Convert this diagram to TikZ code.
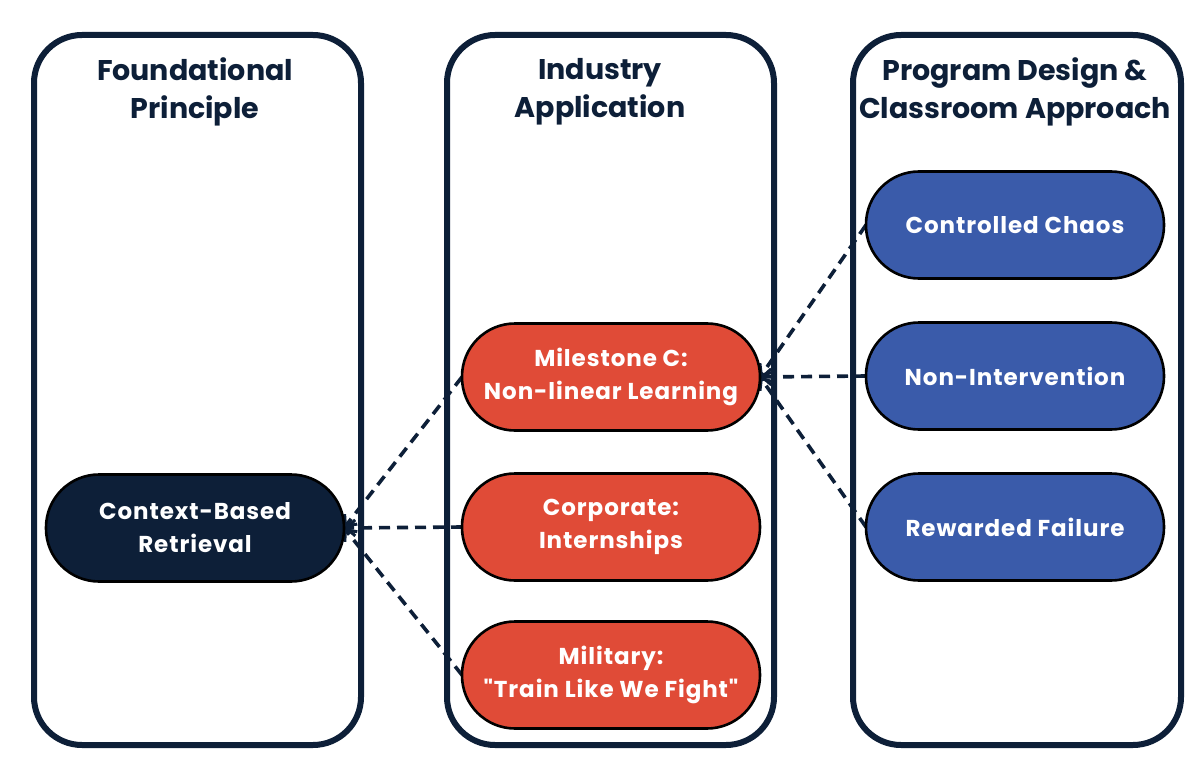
\documentclass[tikz,border=0pt]{standalone}
\usepackage{fontspec}
\setmainfont{Poppins}[BoldFont={* Bold}, Ligatures=TeXOff]
\usetikzlibrary{arrows.meta}
\definecolor{navy}{HTML}{0D1F38}
\definecolor{redfill}{HTML}{E04B37}
\definecolor{bluefill}{HTML}{3A5BAA}
\tikzset{
  column/.style={draw=navy, line width=6pt, rounded corners=48pt, fill=white},
  pill/.style={draw=black, line width=2.6pt, rounded corners=53pt, minimum width=298pt, minimum height=107pt, text=white, align=center, font=\bfseries\fontsize{23}{33}\selectfont\addfontfeatures{LetterSpace=4}},
  coltitle/.style={text=navy, align=center, font=\bfseries\fontsize{28.5}{38}\selectfont},
  link/.style={draw=navy, line width=3.6pt, dash pattern=on 11pt off 7pt, -{Straight Barb[length=9pt,width=16pt,line width=3pt]}}
}
\begin{document}
\begin{tikzpicture}[x=1pt,y=-1pt]
\useasboundingbox (0,0) rectangle (1200,781);
\fill[white] (0,0) rectangle (1200,781);
% columns
\draw[column] (34,35) rectangle (361,745);
\draw[column] (447,35) rectangle (774,745);
\draw[column] (853,35) rectangle (1181,745);
\node[coltitle] (t1) at (195,92) {Foundational\\Principle};
\node[coltitle] (t2) at (600,92) {Industry\\Application};
\node[coltitle] (t3) at (1015,92) {Program Design \&\\Classroom Approach};
% links (under nodes)
\coordinate (cbrR) at (344,528);
\coordinate (msR) at (760,377);
\draw[link] (462,377) -- (cbrR);
\draw[link] (462,675) -- (cbrR);
\draw[link] (462,527) -- (cbrR);
\draw[link] (866,225) -- (msR);
\draw[link] (866,527) -- (msR);
\draw[link] (866,376) -- (msR);
% nodes
\node[pill, fill=navy] (cbr) at (195,528) {Context-Based\\Retrieval};
\node[pill, fill=redfill] (ms) at (611,377) {Milestone C:\\Non-linear Learning};
\node[pill, fill=redfill] (corp) at (611,527) {Corporate:\\Internships};
\node[pill, fill=redfill] (mil) at (611,675) {Military:\\"Train Like We Fight"};
\node[pill, fill=bluefill] (cc) at (1015,225) {Controlled Chaos};
\node[pill, fill=bluefill] (ni) at (1015,376) {Non-Intervention};
\node[pill, fill=bluefill] (rf) at (1015,527) {Rewarded Failure};
\end{tikzpicture}
\end{document}
